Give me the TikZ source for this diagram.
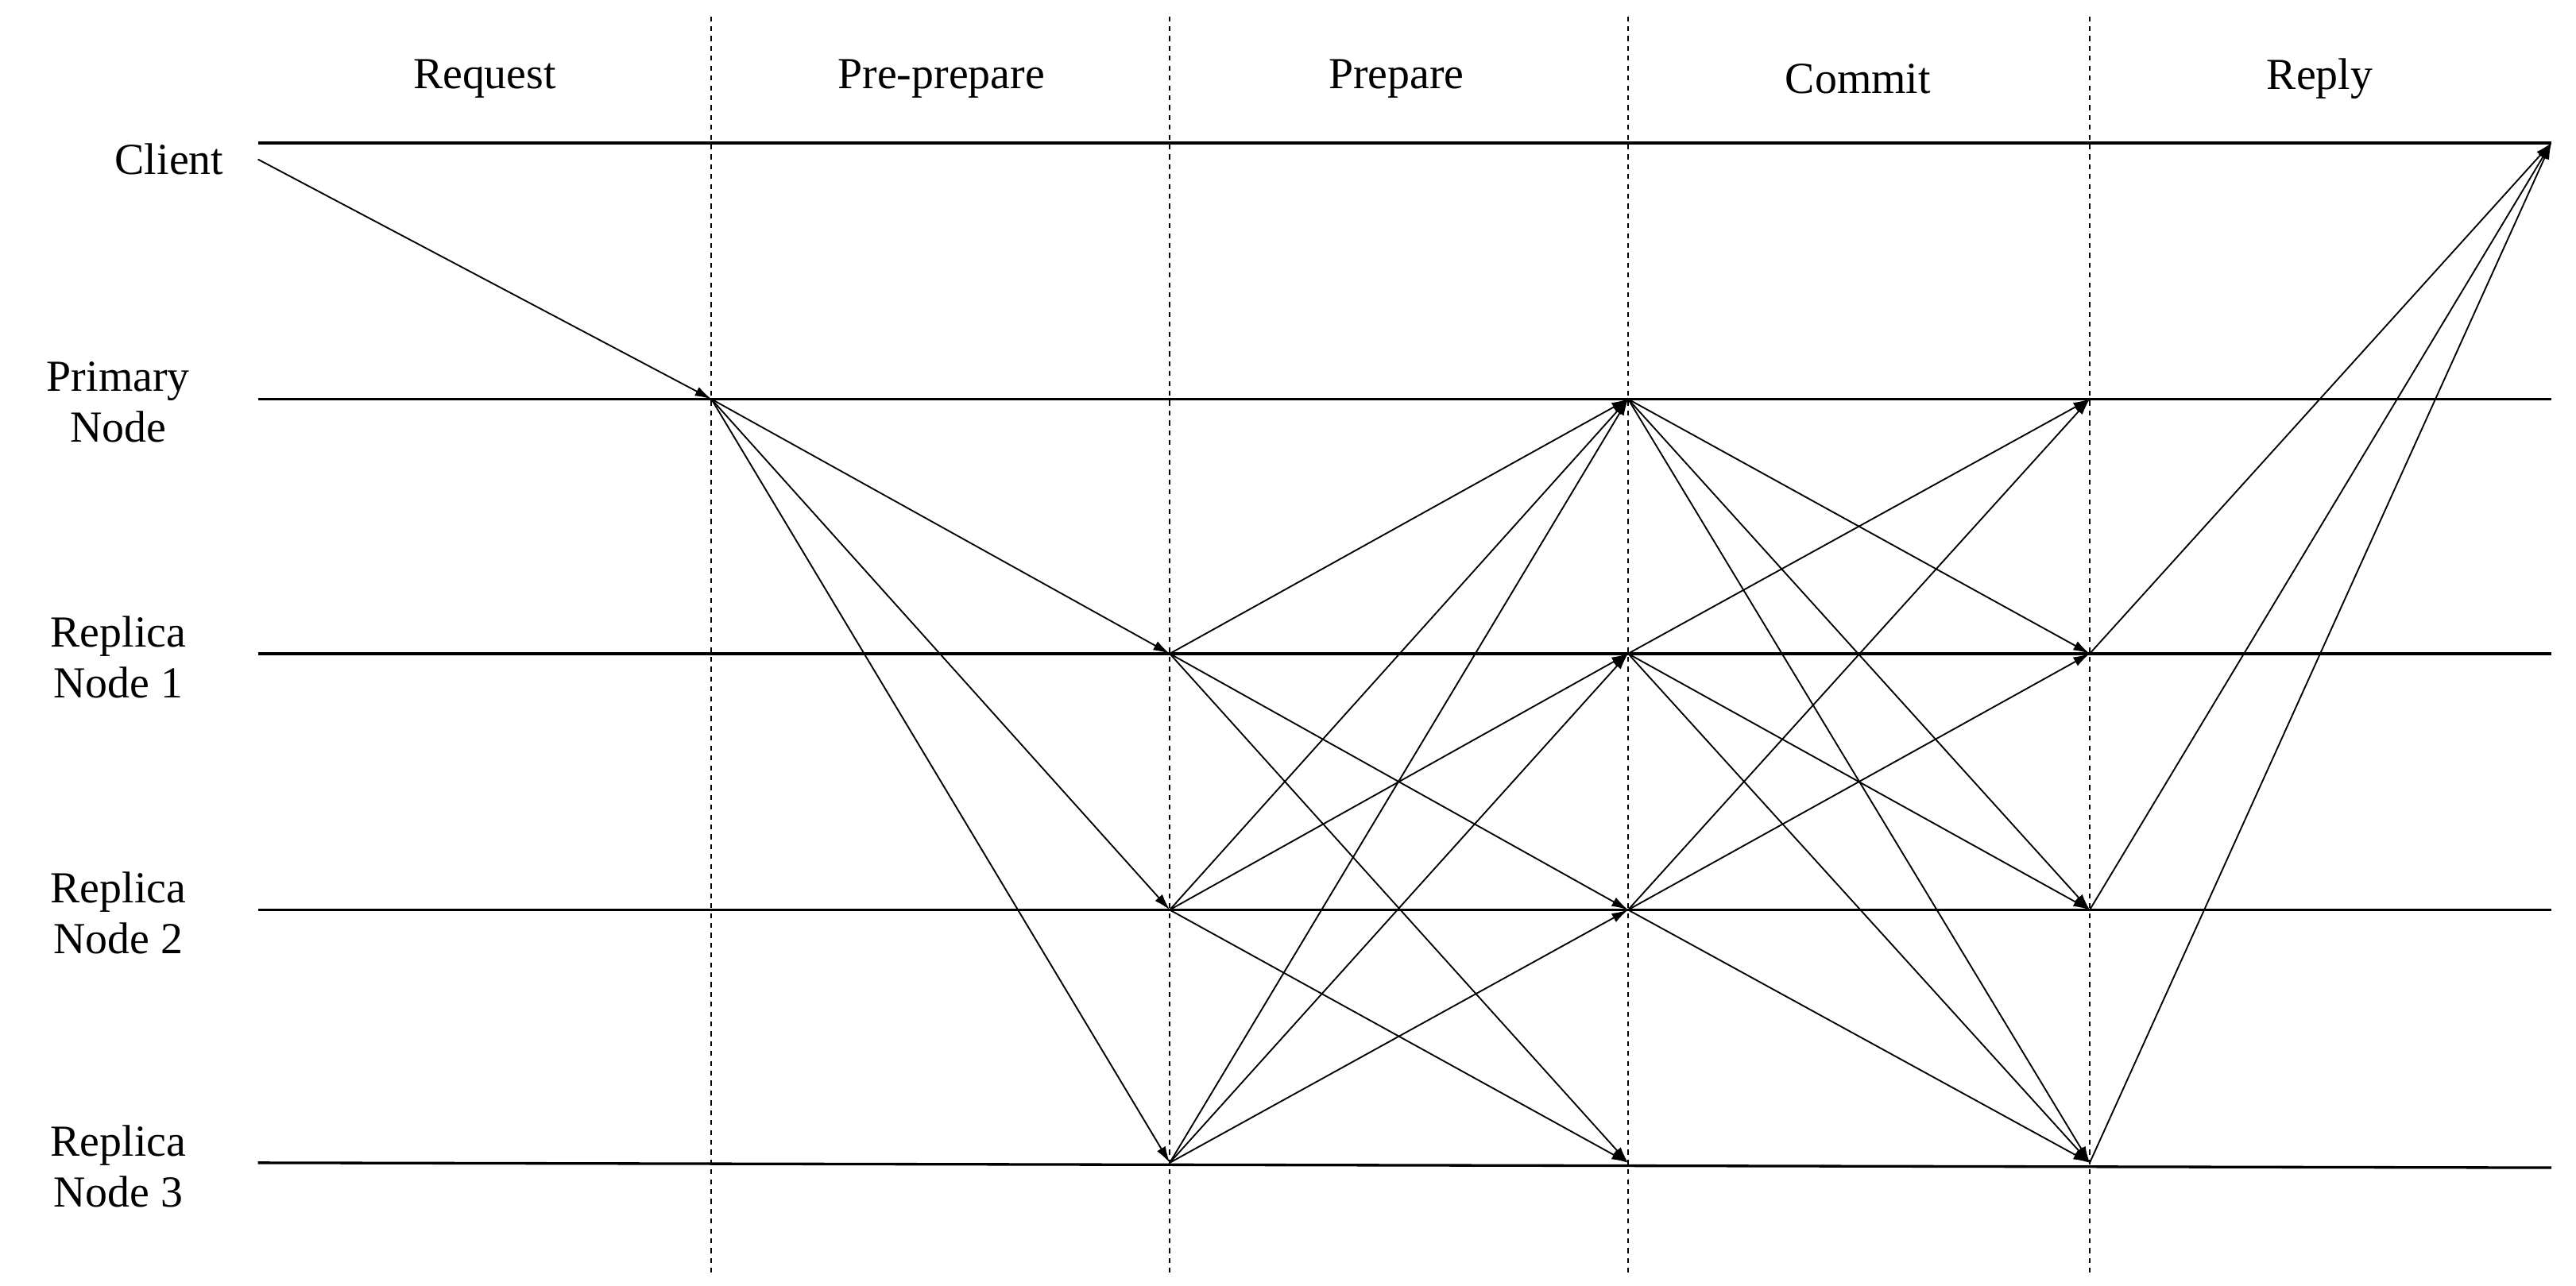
\documentclass[tikz,border=0pt]{standalone}
\usepackage{fontspec}
\setmainfont{Liberation Serif}
\usetikzlibrary{arrows.meta}
\begin{document}
\begin{tikzpicture}[x=1pt,y=-1pt,
  lane/.style={line width=1.6pt},
  phase/.style={dashed,line width=1pt},
  msg/.style={line width=0.9pt,-{Latex[length=10pt,width=6pt]}},
  lbl/.style={font=\fontsize{27}{31}\selectfont,align=center}]
\useasboundingbox (0,0) rectangle (1568,783);
\foreach \x in {433,712,991,1272} \draw[phase] (\x,10) -- (\x,775);
\node[lbl] at (295,48) {Request};
\node[lbl] at (573,48) {Pre-prepare};
\node[lbl] at (850,48) {Prepare};
\node[lbl] at (1131,48) {Commit};
\node[lbl] at (1412,48) {Reply};
\node[lbl] at (103,97) {Client};
\node[lbl] at (72,245) {Primary\\Node};
\node[lbl] at (72,400) {Replica\\Node 1};
\node[lbl] at (72,556) {Replica\\Node 2};
\node[lbl] at (72,710) {Replica\\Node 3};
\draw[lane] (157,87) -- (1553,87);
\draw[lane] (157,243) -- (1553,243);
\draw[lane] (157,398) -- (1553,398);
\draw[lane] (157,554) -- (1553,554);
\draw[lane] (157,708) -- (1553,711);
\coordinate (c0) at (157,97);
\coordinate (c) at (1553,87);
\foreach \i/\x in {1/433,2/712,3/991,4/1272}{
  \coordinate (p\i) at (\x,243);
  \coordinate (a\i) at (\x,398);
  \coordinate (b\i) at (\x,554);
  \coordinate (d\i) at (\x,708);
}
\draw[msg] (c0) -- (p1);
\foreach \t in {a2,b2,d2} \draw[msg] (p1) -- (\t);
\foreach \t in {p3,b3,d3} \draw[msg] (a2) -- (\t);
\foreach \t in {p3,a3,d3} \draw[msg] (b2) -- (\t);
\foreach \t in {p3,a3,b3} \draw[msg] (d2) -- (\t);
\foreach \t in {a4,b4,d4} \draw[msg] (p3) -- (\t);
\foreach \t in {p4,b4,d4} \draw[msg] (a3) -- (\t);
\foreach \t in {p4,a4,d4} \draw[msg] (b3) -- (\t);
\foreach \s in {a4,b4,d4} \draw[msg] (\s) -- (c);
\end{tikzpicture}
\end{document}
